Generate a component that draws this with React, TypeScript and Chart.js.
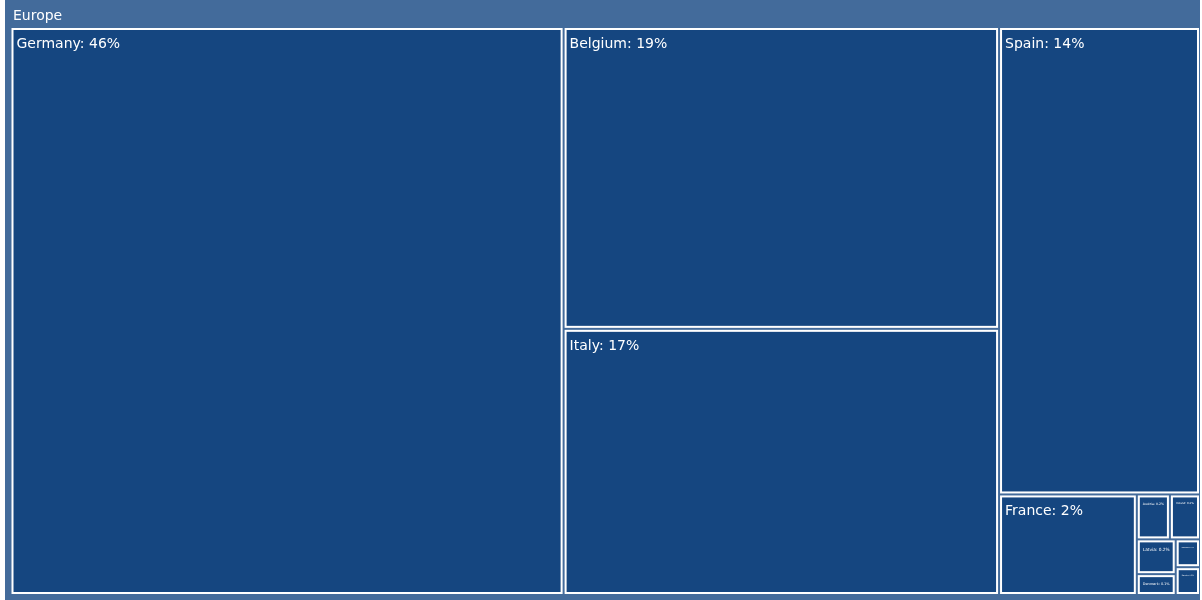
import { useEffect, useRef } from 'react';
import { Chart, registerables } from 'chart.js';

Chart.register(...registerables);

const rootLabel = 'Europe';
const countries = ['Germany', 'Belgium', 'Italy', 'Spain', 'France', 'Austria', 'Ireland', 'Latvia', 'Denmark', 'Netherlands', 'Sweden'];
const shares = [46.49, 19.45, 17.15, 13.9, 2.05, 0.22, 0.2, 0.2, 0.12, 0.1, 0.1];

const ROOT_COLOR = '#436b9b';
const TILE_COLOR = '#154680';
const LINE_COLOR = '#ffffff';
const FONT = '"DejaVu Sans", sans-serif';

type Rect = { x0: number; y0: number; x1: number; y1: number };

function squarify(vals: number[], X0: number, Y0: number, X1: number, Y1: number, ratio = 1): Rect[] {
  const out: Rect[] = new Array(vals.length);
  let x0 = X0, y0 = Y0;
  const x1 = X1, y1 = Y1;
  let value = vals.reduce((a, b) => a + b, 0);
  let i0 = 0, i1 = 0;
  const n = vals.length;
  while (i0 < n) {
    const dx = x1 - x0, dy = y1 - y0;
    let sum = vals[i1++];
    let minV = sum, maxV = sum;
    const alpha = Math.max(dy / dx, dx / dy) / (value * ratio);
    let beta = sum * sum * alpha;
    let minRatio = Math.max(maxV / beta, beta / minV);
    for (; i1 < n; ++i1) {
      const v = vals[i1];
      sum += v;
      if (v < minV) minV = v;
      if (v > maxV) maxV = v;
      beta = sum * sum * alpha;
      const nr = Math.max(maxV / beta, beta / minV);
      if (nr > minRatio) { sum -= v; break; }
      minRatio = nr;
    }
    if (dx < dy) {
      const ny = y0 + (dy * sum) / value;
      let cx = x0;
      for (let i = i0; i < i1; i++) {
        const w = ((x1 - x0) * vals[i]) / sum;
        out[i] = { x0: cx, y0, x1: cx + w, y1: ny };
        cx += w;
      }
      y0 = ny;
    } else {
      const nx = x0 + (dx * sum) / value;
      let cy = y0;
      for (let i = i0; i < i1; i++) {
        const h = ((y1 - y0) * vals[i]) / sum;
        out[i] = { x0, y0: cy, x1: nx, y1: cy + h };
        cy += h;
      }
      x0 = nx;
    }
    value -= sum;
    i0 = i1;
  }
  return out;
}

function fmtPct(p: number) {
  return p < 1 ? p.toFixed(1) + '%' : Math.round(p) + '%';
}

const treemapPlugin = {
  id: 'treemap',
  beforeDatasetsDraw(chart: any) {
    const { ctx } = chart;
    const xs = chart.scales.x;
    const ys = chart.scales.y;
    const rx0 = xs.getPixelForValue(0);
    const rx1 = xs.getPixelForValue(100);
    const ry0 = ys.getPixelForValue(100);
    const ry1 = ys.getPixelForValue(0);
    ctx.save();
    ctx.fillStyle = ROOT_COLOR;
    ctx.fillRect(rx0, ry0, rx1 - rx0, ry1 - ry0);
    ctx.fillStyle = '#ffffff';
    ctx.font = `14px ${FONT}`;
    ctx.textBaseline = 'alphabetic';
    ctx.textAlign = 'left';
    ctx.fillText(rootLabel, rx0 + 8, ry0 + 19.5);

    const total = shares.reduce((a, b) => a + b, 0);
    const p = 2;
    const ax0 = rx0 + 7.5 - p, ay0 = ry0 + 29 - p, ax1 = rx1 - 2 + p, ay1 = ry1 - 7 + p;
    const rects = squarify(shares, ax0, ay0, ax1, ay1, 1);
    rects.forEach((r, i) => {
      const x0 = r.x0 + p, y0 = r.y0 + p, x1 = r.x1 - p, y1 = r.y1 - p;
      ctx.fillStyle = TILE_COLOR;
      ctx.fillRect(x0, y0, x1 - x0, y1 - y0);
      ctx.strokeStyle = LINE_COLOR;
      ctx.lineWidth = 2;
      ctx.strokeRect(x0, y0, x1 - x0, y1 - y0);
      const text = `${countries[i]}: ${fmtPct((shares[i] / total) * 100)}`;
      ctx.font = `14px ${FONT}`;
      const tw = ctx.measureText(text).width;
      const maxW = x1 - x0 - 8;
      let size = 14;
      if (tw > maxW) size = Math.max(1, (14 * maxW) / tw);
      ctx.font = `${size}px ${FONT}`;
      ctx.fillStyle = '#ffffff';
      ctx.fillText(text, x0 + 4, y0 + 5 + size);
    });
    ctx.restore();
  },
};

export default function App() {
  const ref = useRef<HTMLCanvasElement | null>(null);
  useEffect(() => {
    if (!ref.current) return;
    const chart = new Chart(ref.current, {
      type: 'scatter',
      data: { datasets: [{ data: [] }] },
      options: {
        animation: false,
        responsive: true,
        maintainAspectRatio: false,
        layout: { padding: { left: 5, right: 2, top: 0, bottom: 0 } },
        plugins: { legend: { display: false }, tooltip: { enabled: false } },
        scales: {
          x: { type: 'linear', min: 0, max: 100, display: false },
          y: { type: 'linear', min: 0, max: 100, display: false },
        },
      },
      plugins: [treemapPlugin],
    });
    return () => chart.destroy();
  }, []);
  return (
    <div style={{ position: 'fixed', left: 0, top: 0, width: 1202, height: 600 }}>
      <canvas ref={ref} />
    </div>
  );
}
